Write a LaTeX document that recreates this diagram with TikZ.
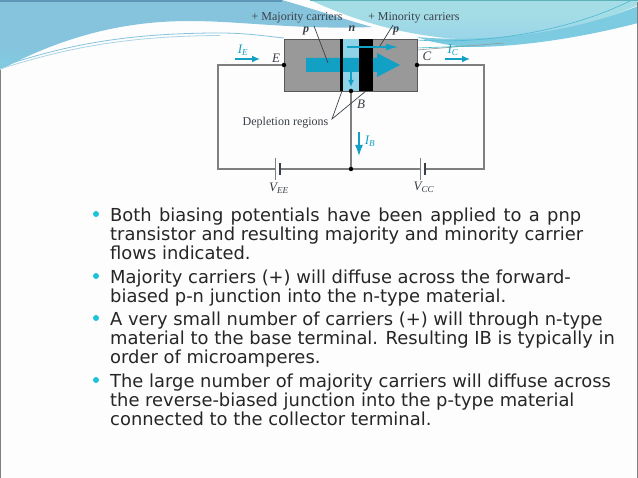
\documentclass[tikz,border=0pt]{standalone}
\usepackage{fontspec}
\setmainfont{DejaVu Sans}
\newfontfamily\figfont{Liberation Serif}
\usetikzlibrary{arrows.meta}
\definecolor{wire}{HTML}{7F7F7F}
\definecolor{ink}{HTML}{3A4048}
\definecolor{flow}{HTML}{12A0C4}
\definecolor{bodygray}{HTML}{999999}
\definecolor{nfill}{HTML}{8FD3E8}
\definecolor{bluetop}{HTML}{86C3DC}
\definecolor{topdark}{HTML}{5E97B8}
\definecolor{aqua}{HTML}{6FE3EA}
\definecolor{lightsw}{HTML}{A5DDE6}
\definecolor{bandsw}{HTML}{7CCBE0}
\definecolor{midsw}{HTML}{8ECBEA}
\definecolor{txt}{HTML}{262626}
\definecolor{bul}{HTML}{1CC4DA}
\definecolor{bggray}{HTML}{FDFDFD}
\pgfdeclareverticalshading{leftsw}{100bp}{color(0bp)=(aqua); color(14bp)=(aqua!60!bluetop); color(45bp)=(bluetop); color(100bp)=(bluetop)}
\pgfdeclareverticalshading{rightsw}{100bp}{color(0bp)=(midsw); color(60bp)=(lightsw); color(100bp)=(lightsw)}
\tikzset{
 x=1pt,y=-1pt,
 wireline/.style={draw=wire,line width=1.2pt},
 thin line/.style={draw=ink,line width=.7pt},
 fig/.style={font=\figfont\fontsize{12}{14}\selectfont,text=ink,inner sep=0pt},
 figi/.style={font=\figfont\itshape\fontsize{13}{14}\selectfont,text=ink,inner sep=0pt},
 figb/.style={font=\figfont\bfseries\itshape\fontsize{12}{14}\selectfont,text=ink,inner sep=0pt},
 cur/.style={font=\figfont\itshape\fontsize{13}{14}\selectfont,text=flow,inner sep=0pt},
 flowarrow/.style={draw=flow,line width=1.5pt,-{Latex[length=8pt,width=7pt]}},
 junction/.style={circle,fill=black,inner sep=0pt,minimum size=4.5pt},
 bullet/.style={circle,fill=bul,inner sep=0pt,minimum size=6pt},
 para/.style={anchor=north west,inner sep=0pt,text=txt,align=left,font=\fontsize{17.9}{19}\selectfont},
}
\begin{document}
\begin{tikzpicture}
\useasboundingbox (0,0) rectangle (638,478);
\fill[bggray] (0,0) rectangle (638,478);
% top swoosh: right part
\begin{scope}
\clip (310,0) .. controls (345,16) and (385,30) .. (430,36) .. controls (480,44) and (560,40) .. (638,5) -- (638,0) -- cycle;
\shade[shading=rightsw] (300,0) rectangle (638,45);
\end{scope}
\fill[bandsw] (417,37) .. controls (470,42) and (560,38) .. (638,6) -- (638,23) .. controls (580,38) and (520,47) .. (470,47) .. controls (450,46) and (430,42) .. (417,37) -- cycle;
% top swoosh: left part
\begin{scope}
\clip (0,0) -- (0,70) .. controls (60,38) and (120,21) .. (190,21) .. controls (240,21) and (300,30) .. (372,27) .. controls (340,18) and (310,8) .. (282,0) -- cycle;
\shade[shading=leftsw] (0,0) rectangle (400,75);
\end{scope}
\fill[topdark] (0,0) rectangle (282,2);
\fill[teal!45!lightsw] (310,0) rectangle (638,1.5);
\draw[bluetop,line width=.8pt] (0,67) .. controls (60,47) and (120,33) .. (220,33) .. controls (245,33) and (265,36) .. (284,38);
\draw[bluetop!70!white,line width=.8pt] (0,69) .. controls (60,50) and (120,36) .. (220,35.5);
\draw[flow!75!white,line width=.6pt] (417,40) .. controls (470,44) and (560,36) .. (632,0);
\draw[wire!80!white,line width=.6pt] (417,50) -- (504,43);
\draw[aqua!60!teal,line width=.6pt] (417,48) -- (470,46);
% slide edges
\draw[wire,line width=1pt] (.5,70) -- (.5,478);
\draw[wire,line width=1pt] (637,2) -- (637,478);
% circuit
\coordinate (eL) at (218,65); \coordinate (cR) at (484,65);
\draw[wireline] (284,65) -- (eL) -- (218,169) -- (275.5,169);
\draw[wireline] (280,169) -- (420.5,169);
\draw[wireline] (424.5,169) -- (484,169) -- (cR) -- (417,65);
\draw[wireline] (351,90) -- (351,169);
% transistor
\fill[bodygray] (284,39) rectangle (417,91);
\draw[draw=wire!70!black,line width=.8pt] (284,39) rectangle (417,91);
\fill[nfill] (343,39) rectangle (359,91);
% majority arrow
\fill[flow] (306,58) -- (377,58) -- (377,53) -- (400,65) -- (377,77) -- (377,72) -- (306,72) -- cycle;
\fill[black] (340,39) rectangle (343,91);
\fill[black] (359,39) rectangle (373,91);
\draw[flow,line width=1.3pt,-{Latex[length=12pt,width=7pt]}] (347,47) -- (398,47);
\draw[flow,line width=1.3pt,-{Latex[length=7pt,width=6pt]}] (351,72) -- (351,87);
\node[junction] (E) at (284,65) {};
\node[junction] (C) at (417,65) {};
\node[junction] (Bn) at (351,91) {};
\node[junction] (J) at (351,169) {};
% batteries
\draw[wire,line width=.8pt] (275.7,158) -- (275.7,180);
\draw[ink,line width=2pt] (280,163) -- (280,175);
\draw[wire,line width=.8pt] (420.3,158) -- (420.3,180);
\draw[ink,line width=2pt] (424.7,163) -- (424.7,175);
% labels
\node[fig,anchor=west] (maj) at (251.5,17.5) {+ Majority carriers};
\node[fig,anchor=west] (min) at (368,17.5) {+ Minority carriers};
\node[figb] (p1) at (306,30.5) {p};
\node[figb] (n1) at (352,29) {n};
\node[figb] (p2) at (396,31) {p};
\node[figi] (Elab) at (276,58) {E};
\node[figi] (Clab) at (427,56) {C};
\node[figi] (Blab) at (361,104) {B};
\node[fig,anchor=west] (dep) at (242.5,122.5) {Depletion regions};
\node[cur] (IE) at (243,50) {I\textsubscript{E}};
\node[cur] (IC) at (453,50) {I\textsubscript{C}};
\node[cur] (IB) at (370,141) {I\textsubscript{B}};
\node[figi] (VE) at (279,188) {V\textsubscript{EE}};
\node[figi] (VC) at (424,187.5) {V\textsubscript{CC}};
% leaders
\coordinate (mt) at (314,26); \coordinate (mh) at (328,63);
\draw[thin line] (mt) -- (mh);
\coordinate (nt) at (393,25); \coordinate (nh) at (380,46);
\draw[thin line] (nt) -- (nh);
\coordinate (dv) at (332,119);
\coordinate (d1) at (342,91); \coordinate (d2) at (366,91);
\draw[thin line] (d1) -- (dv) -- (d2);
% current arrows
\coordinate (a1) at (235,59); \coordinate (a2) at (260,59);
\draw[flowarrow] (a1) -- (a2);
\coordinate (b1) at (445,59); \coordinate (b2) at (470,59);
\draw[flowarrow] (b1) -- (b2);
\coordinate (c1) at (359,132); \coordinate (c2) at (359,156);
\draw[flow,line width=1.5pt,-{Latex[length=11pt,width=8pt]}] (c1) -- (c2);
% bullets
\node[bullet] (b1n) at (96,214) {};
\node[bullet] (b2n) at (96,276) {};
\node[bullet] (b3n) at (96,318) {};
\node[bullet] (b4n) at (96,380) {};
\node[para] (t1) at (110,208) {\makebox[471pt][s]{Both biasing potentials have been applied to a pnp}\\transistor and resulting majority and minority carrier\\flows indicated.};
\node[para] (t2) at (110,270) {Majority carriers (+) will diffuse across the forward-\\biased p-n junction into the n-type material.};
\node[para] (t3) at (110,312) {A very small number of carriers (+) will through n-type\\material to the base terminal. Resulting IB is typically in\\order of microamperes.};
\node[para] (t4) at (110,374) {The large number of majority carriers will diffuse across\\the reverse-biased junction into the p-type material\\connected to the collector terminal.};
\end{tikzpicture}
\end{document}
